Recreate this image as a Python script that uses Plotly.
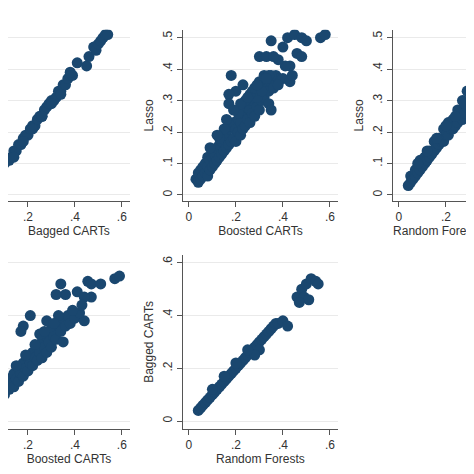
import plotly.graph_objects as go

# Panel 1: Lasso (y) vs Bagged CARTs (x)
p1_x = [0.10,0.12,0.13,0.14,0.15,0.16,0.17,0.18,0.19,0.20,0.21,0.22,0.23,0.24,0.25,0.26,0.27,0.28,0.29,0.30,0.31,0.32,0.33,0.34,0.35,0.36,0.37,0.38,0.39,0.38,0.41,0.45,0.46,0.48,0.49,0.50,0.51,0.52,0.53,0.54,0.14,0.18,0.22,0.26,0.30,0.34]
p1_y = [0.10,0.11,0.12,0.14,0.14,0.16,0.16,0.18,0.19,0.19,0.21,0.22,0.22,0.24,0.25,0.25,0.27,0.28,0.29,0.30,0.30,0.31,0.33,0.33,0.35,0.35,0.37,0.38,0.38,0.39,0.42,0.41,0.44,0.47,0.46,0.48,0.49,0.50,0.51,0.51,0.12,0.17,0.21,0.25,0.29,0.32]

# Panel 2: Lasso (y) vs Boosted CARTs (x)
p2_x = [0.03,0.04,0.04,0.05,0.05,0.06,0.06,0.07,0.07,0.08,0.08,0.08,0.09,0.09,0.10,0.10,0.10,0.11,0.11,0.12,0.12,0.13,0.13,0.14,0.14,0.15,0.15,0.16,0.16,0.17,0.17,0.18,0.18,0.19,0.19,0.20,0.20,0.21,0.21,0.22,0.22,0.23,0.23,0.24,0.24,0.25,0.25,0.26,0.26,0.27,0.27,0.28,0.28,0.29,0.30,0.30,0.31,0.31,0.32,0.33,0.34,0.35,0.36,0.37,0.38,0.32,0.18,0.20,0.17,0.17,0.23,0.35,0.40,0.42,0.45,0.48,0.50,0.46,0.48,0.43,0.41,0.38,0.56,0.58,0.30,0.33,0.36,0.35,0.40,0.43,0.44,0.38,0.34,0.35,0.27,0.29,0.15,0.13,0.24,0.21,0.26,0.28,0.30,0.32,0.34,0.22,0.19,0.16,0.12,0.09,0.31,0.33,0.29,0.25]
p2_y = [0.05,0.04,0.07,0.05,0.08,0.06,0.09,0.07,0.10,0.06,0.09,0.12,0.08,0.11,0.09,0.12,0.14,0.10,0.13,0.11,0.15,0.12,0.16,0.13,0.17,0.14,0.19,0.15,0.20,0.16,0.21,0.17,0.22,0.18,0.23,0.17,0.21,0.20,0.24,0.19,0.23,0.21,0.26,0.22,0.28,0.24,0.29,0.23,0.27,0.26,0.30,0.25,0.31,0.28,0.27,0.32,0.30,0.35,0.31,0.34,0.33,0.36,0.34,0.38,0.37,0.38,0.38,0.33,0.32,0.29,0.35,0.49,0.47,0.50,0.51,0.50,0.49,0.45,0.44,0.41,0.41,0.43,0.50,0.51,0.44,0.44,0.44,0.38,0.37,0.36,0.38,0.35,0.29,0.27,0.33,0.31,0.21,0.18,0.30,0.26,0.32,0.34,0.36,0.37,0.38,0.29,0.27,0.24,0.19,0.15,0.33,0.37,0.35,0.31]

# Panel 3: Lasso (y) vs Random Forests (x)
p3_x = [0.04,0.05,0.05,0.06,0.07,0.07,0.08,0.09,0.09,0.10,0.11,0.11,0.12,0.13,0.13,0.14,0.15,0.15,0.16,0.17,0.17,0.18,0.19,0.19,0.20,0.21,0.21,0.22,0.23,0.23,0.24,0.25,0.25,0.26,0.27,0.27,0.28,0.29,0.29,0.30,0.31,0.31,0.32,0.33,0.33,0.34,0.35,0.35,0.08,0.12,0.16,0.20,0.24,0.28,0.32]
p3_y = [0.03,0.04,0.06,0.05,0.06,0.08,0.07,0.08,0.11,0.09,0.10,0.12,0.11,0.12,0.14,0.13,0.14,0.17,0.15,0.16,0.18,0.17,0.17,0.21,0.19,0.19,0.23,0.21,0.21,0.24,0.22,0.23,0.27,0.26,0.24,0.30,0.26,0.28,0.33,0.29,0.30,0.34,0.28,0.32,0.35,0.33,0.34,0.38,0.10,0.14,0.18,0.22,0.25,0.29,0.31]

# Panel 4: Bagged CARTs (y) vs Boosted CARTs (x)
p4_x = [0.10,0.11,0.12,0.12,0.13,0.14,0.14,0.15,0.16,0.16,0.17,0.18,0.18,0.19,0.20,0.20,0.21,0.22,0.22,0.23,0.24,0.24,0.25,0.26,0.26,0.27,0.28,0.28,0.29,0.30,0.30,0.31,0.32,0.33,0.34,0.35,0.36,0.37,0.38,0.40,0.44,0.42,0.18,0.21,0.17,0.57,0.59,0.34,0.455,0.47,0.51,0.41,0.36,0.32,0.47,0.44,0.43,0.39,0.28,0.25,0.33,0.35,0.23,0.27,0.31,0.19,0.15]
p4_y = [0.10,0.14,0.12,0.16,0.14,0.13,0.18,0.16,0.15,0.20,0.18,0.17,0.22,0.20,0.19,0.24,0.22,0.21,0.26,0.24,0.23,0.28,0.26,0.24,0.30,0.28,0.26,0.32,0.30,0.28,0.35,0.32,0.31,0.36,0.34,0.38,0.36,0.40,0.37,0.39,0.38,0.41,0.36,0.40,0.34,0.54,0.55,0.52,0.53,0.52,0.52,0.49,0.48,0.48,0.47,0.47,0.44,0.42,0.38,0.33,0.40,0.30,0.29,0.34,0.37,0.25,0.21]

# Panel 5: Bagged CARTs (y) vs Random Forests (x)
p5_x = [0.04,0.05,0.06,0.07,0.08,0.09,0.10,0.11,0.12,0.13,0.14,0.15,0.16,0.17,0.18,0.19,0.20,0.21,0.22,0.23,0.24,0.25,0.26,0.27,0.28,0.29,0.30,0.31,0.32,0.33,0.34,0.35,0.36,0.37,0.38,0.40,0.42,0.30,0.28,0.46,0.48,0.50,0.52,0.54,0.49,0.51,0.55,0.47,0.10,0.15,0.20,0.25]
p5_y = [0.04,0.05,0.06,0.07,0.08,0.09,0.10,0.11,0.12,0.13,0.14,0.15,0.16,0.17,0.18,0.19,0.20,0.21,0.22,0.23,0.24,0.25,0.26,0.27,0.28,0.29,0.30,0.31,0.32,0.33,0.34,0.35,0.36,0.37,0.37,0.38,0.36,0.27,0.25,0.47,0.50,0.52,0.54,0.53,0.47,0.46,0.52,0.45,0.12,0.17,0.22,0.27]

panels = [
    (p1_x, p1_y, "Bagged CARTs", "Lasso", [0.115, 0.634], [-0.019, 0.525], [0.0, 0.257], [0.593, 0.954], False, 5),
    (p2_x, p2_y, "Boosted CARTs", "Lasso", [-0.0255, 0.634], [-0.019, 0.525], [0.369, 0.696], [0.593, 0.954], True, 5),
    (p3_x, p3_y, "Random Forests", "Lasso", [-0.0255, 0.353], [-0.019, 0.525], [0.812, 1.0], [0.593, 0.954], True, 5),
    (p4_x, p4_y, "Boosted CARTs", "Bagged CARTs", [0.115, 0.634], [-0.03, 0.63], [0.0, 0.257], [0.112, 0.479], False, 3),
    (p5_x, p5_y, "Random Forests", "Bagged CARTs", [-0.0255, 0.634], [-0.03, 0.63], [0.369, 0.696], [0.112, 0.479], True, 3),
]

fig = go.Figure()
lay = {}
col = "#1a476f"
fnt = dict(size=12, color="#333", family="Liberation Sans")
for i, (xs, ys, xt, yt, xr, yr, xd, yd, showy, nt) in enumerate(panels, start=1):
    s = "" if i == 1 else str(i)
    fig.add_trace(go.Scatter(x=xs, y=ys, mode="markers", xaxis="x" + s, yaxis="y" + s,
                             marker=dict(size=11, color=col), showlegend=False, hoverinfo="skip",
                             cliponaxis=True))
    if nt == 5:
        yv = [0, 0.1, 0.2, 0.3, 0.4, 0.5]; ytx = ["0", ".1", ".2", ".3", ".4", ".5"]
    else:
        yv = [0, 0.2, 0.4, 0.6]; ytx = ["0", ".2", ".4", ".6"]
    lay["xaxis" + s] = dict(domain=xd, range=xr, anchor="y" + s, showgrid=False, zeroline=False,
                            automargin=False,
                            showline=True, linecolor="#555", ticks="outside", ticklen=5, tickcolor="#555",
                            tickvals=[0, 0.2, 0.4, 0.6], ticktext=["0", ".2", ".4", ".6"],
                            tickfont=fnt, title=dict(text=xt, standoff=2, font=fnt))
    lay["yaxis" + s] = dict(domain=yd, range=yr, anchor="x" + s, showgrid=True, gridcolor="#eaeaea",
                            automargin=False,
                            zeroline=False, showline=showy, linecolor="#555",
                            ticks="outside" if showy else "", ticklen=5, tickcolor="#555",
                            showticklabels=showy, tickangle=-90,
                            tickvals=yv, ticktext=ytx, tickfont=fnt,
                            title=dict(text=yt if showy else "", standoff=4, font=fnt))

fig.update_layout(width=474, height=474, margin=dict(l=0, r=0, t=0, b=0),
                  paper_bgcolor="white", plot_bgcolor="white", **lay)
fig.write_html("out.html")
